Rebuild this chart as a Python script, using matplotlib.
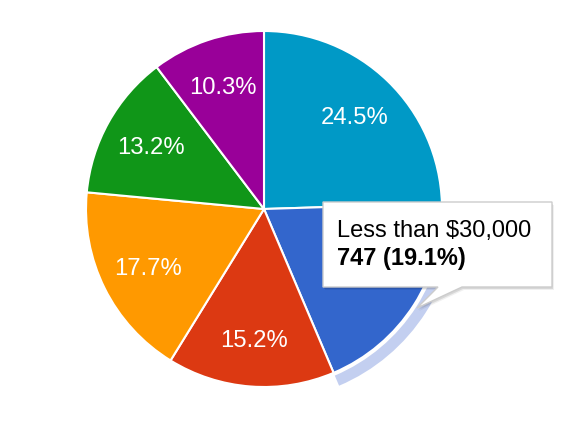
import matplotlib
matplotlib.use("Agg")
import matplotlib.pyplot as plt
from matplotlib.patches import Wedge, Polygon

# Data (clockwise from 12 o'clock)
categories = ["$100,000 or more", "Less than $30,000", "$30,000 to $49,999",
              "$50,000 to $69,999", "$70,000 to $84,999", "$85,000 to $99,999"]
values = [958, 747, 594, 692, 516, 403]
colors = ["#0099c6", "#3366cc", "#dc3912", "#ff9900", "#109618", "#990099"]
highlight = 1  # index of hovered slice

W, H = 580, 436
fig = plt.figure(figsize=(W / 100, H / 100), dpi=100)
ax = fig.add_axes([0, 0, 1, 1])

cx, cy, R = 264, H - 209, 178
wedges, texts, autotexts = ax.pie(
    values, colors=colors, startangle=90, counterclock=False,
    center=(cx, cy), radius=R, autopct="%.1f%%", pctdistance=0.73,
    wedgeprops=dict(edgecolor="white", linewidth=1.5),
    textprops=dict(color="white", fontsize=17.2, family="Liberation Sans"),
)
for t in texts:
    t.set_visible(False)
for t in autotexts:
    t.set_va("center_baseline")
# label of hovered slice is hidden under the tooltip
autotexts[highlight].set_visible(False)

# hover halo around highlighted slice
w = wedges[highlight]
halo = Wedge((cx, cy), R + 14, w.theta1, w.theta2, width=11,
             facecolor="#c3cff0", edgecolor="none", zorder=1)
ax.add_patch(halo)

ax.set_xlim(0, W)
ax.set_ylim(0, H)
ax.set_aspect("equal")
ax.axis("off")

# Tooltip
def py(y):
    return H - y

pts = [(323, 202), (552, 202), (552, 287), (462, 287), (417, 308), (438, 287), (323, 287)]
for dx, dy, a in [(1, 2, 0.10), (2, 3, 0.06)]:
    shadow = Polygon([(x + dx, py(y) - dy) for x, y in pts], closed=True,
                     facecolor="#000000", alpha=a, edgecolor="none", zorder=9)
    ax.add_patch(shadow)
tip = Polygon([(x, py(y)) for x, y in pts], closed=True,
              facecolor="white", edgecolor="#cccccc", linewidth=1, zorder=10)
ax.add_patch(tip)

total = sum(values)
pct = values[highlight] / total * 100
ax.text(337, py(237), categories[highlight], fontsize=17, family="Liberation Sans",
        color="black", va="baseline", ha="left", zorder=11)
ax.text(337, py(265), f"{values[highlight]} ({pct:.1f}%)", fontsize=17,
        family="Liberation Sans", fontweight="bold", color="black",
        va="baseline", ha="left", zorder=11)

fig.savefig("out.png", dpi=100)
